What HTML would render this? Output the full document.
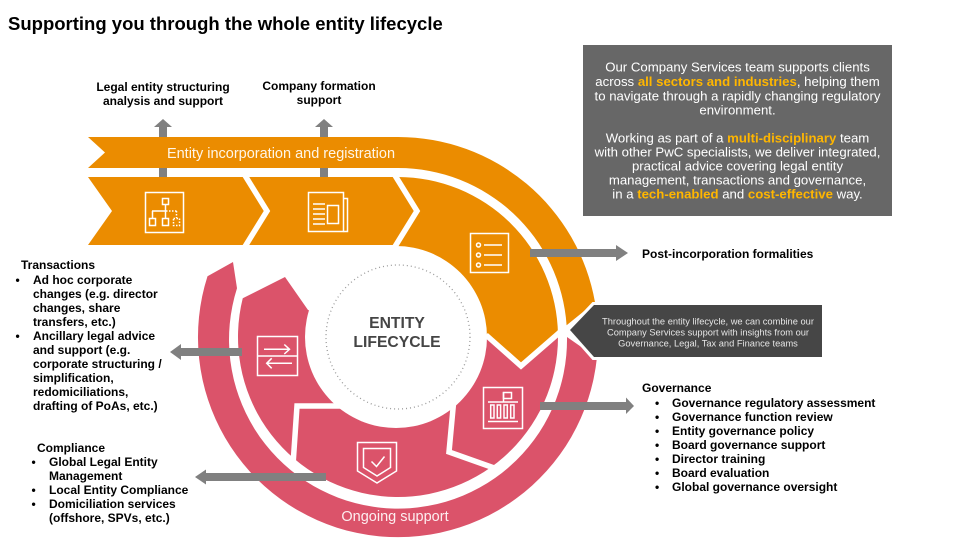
<!DOCTYPE html>
<html><head><meta charset="utf-8"><style>
html,body{margin:0;padding:0;background:#fff;}
svg{display:block;font-family:"Liberation Sans",Arial,sans-serif;}
.b{font-weight:bold;font-size:12px;fill:#000;}
</style></head><body>
<svg width="960" height="540" viewBox="0 0 960 540" xmlns="http://www.w3.org/2000/svg">
<rect width="960" height="540" fill="#fff"/>
<text x="8" y="30" font-size="18.5" font-weight="bold" fill="#000">Supporting you through the whole entity lifecycle</text>

<!-- up arrows (behind band) -->
<g fill="#808080">
<rect x="159" y="126" width="8" height="56"/><polygon points="154,127 163,119 172,127"/>
<rect x="320" y="126" width="8" height="56"/><polygon points="315,127 324,119 333,127"/>
</g>

<!-- outer orange band -->
<path d="M88 137 L398 137 A200 200 0 0 1 595 302.3 L566.6 325.2 A169 169 0 0 0 398 168 L88 168 L105 152.5 Z" fill="#EB8C00"/>
<!-- outer pink band -->
<path d="M596.9 357.9 A200 200 0 1 1 207.5 276.2 L233 262 L237 288.3 A169 169 0 1 0 567 337 Z" fill="#DB536A"/>
<!-- inner pink ring -->
<path d="M398 337 L558 337 A160 160 0 1 1 242.75 298.3 L285 277 L308 310 Z" fill="#DB536A"/>
<!-- inner orange -->
<path d="M88 177 L398 177 A160 160 0 0 1 557.98 334.2 L521 366 L488 337 L398 337 L398 245 L88 245 L112 211 Z" fill="#EB8C00"/>

<!-- white separators -->
<g fill="none" stroke="#fff" stroke-width="5.5">
<polyline points="243.5,173 267,211 243.5,249"/>
<polyline points="393.5,173 417,211 393.5,249"/>
<polyline points="486,335 521,366 559,333 563,329"/>
<polyline points="454,398 449,452 497,469"/>
<polyline points="344,406 297,406 293,465"/>
</g>

<!-- center circle -->
<circle cx="396" cy="337" r="91" fill="#fff"/>
<circle cx="398" cy="337" r="72" fill="none" stroke="#9a9a9a" stroke-width="1.3" stroke-dasharray="1 3"/>
<text x="397" y="328" font-size="15.7" font-weight="bold" fill="#454545" text-anchor="middle">ENTITY</text>
<text x="397" y="347" font-size="15.7" font-weight="bold" fill="#454545" text-anchor="middle">LIFECYCLE</text>

<text x="281" y="158" font-size="14.5" fill="#fff6e8" text-anchor="middle">Entity incorporation and registration</text>
<text x="395" y="521" font-size="14.5" fill="#fdeef0" text-anchor="middle">Ongoing support</text>

<!-- arrows on top -->
<g fill="#808080">
<rect x="530" y="249" width="88" height="8"/><polygon points="616,245 628,253 616,261"/>
<rect x="180" y="348" width="62" height="8"/><polygon points="170,352 181,344 181,360"/>
<rect x="206" y="473" width="120" height="8"/><polygon points="195,477 206,469.5 206,484.5"/>
<rect x="540" y="402" width="88" height="8"/><polygon points="626,397.5 634,406 626,414"/>
</g>

<!-- icons -->
<g fill="none" stroke="#fff" stroke-width="1.5">
<!-- org chart -->
<rect x="145.5" y="192.5" width="38" height="40"/>
<rect x="162.5" y="198.5" width="6" height="6"/>
<line x1="165.5" y1="204.5" x2="165.5" y2="211"/>
<line x1="152" y1="211" x2="166" y2="211"/>
<line x1="166" y1="211" x2="177" y2="211" stroke-dasharray="1.5 1.5"/>
<line x1="152.5" y1="211" x2="152.5" y2="218"/>
<line x1="165.5" y1="211" x2="165.5" y2="218"/>
<line x1="176.5" y1="211" x2="176.5" y2="218" stroke-dasharray="1.5 1.5"/>
<rect x="149.5" y="218.5" width="6" height="7"/>
<rect x="162.5" y="218.5" width="6" height="7"/>
<rect x="173.5" y="218.5" width="6" height="7" stroke-dasharray="1.5 1.5"/>
<!-- newspaper -->
<rect x="308.5" y="192.5" width="35" height="39"/>
<polyline points="343.5,198.5 347.5,198.5 347.5,231.5 343.5,231.5"/>
<line x1="313" y1="204" x2="325" y2="204"/>
<line x1="313" y1="209" x2="325" y2="209"/>
<line x1="313" y1="214" x2="325" y2="214"/>
<line x1="313" y1="219" x2="325" y2="219"/>
<line x1="313" y1="224" x2="325" y2="224"/>
<rect x="327.5" y="205.5" width="11" height="18"/>
<!-- list -->
<rect x="470.5" y="233.5" width="38" height="39"/>
<circle cx="478.5" cy="245" r="2"/><circle cx="478.5" cy="255" r="2"/><circle cx="478.5" cy="265" r="2"/>
<line x1="484" y1="245" x2="502" y2="245"/><line x1="484" y1="255" x2="502" y2="255"/><line x1="484" y1="265" x2="502" y2="265"/>
<!-- arrows -->
<rect x="257.5" y="336.5" width="40" height="39"/>
<line x1="257.5" y1="356" x2="297.5" y2="356"/>
<line x1="264" y1="349.3" x2="289.5" y2="349.3"/>
<polyline points="284.3,344.5 289.5,349.3 284.3,354"/>
<line x1="266.5" y1="363.3" x2="292" y2="363.3"/>
<polyline points="271.7,358.3 266.7,363.3 271.7,368.3"/>
<!-- building -->
<rect x="483.5" y="387.5" width="39" height="41"/>
<line x1="503.5" y1="392" x2="503.5" y2="402"/>
<rect x="503.5" y="392.5" width="8" height="6"/>
<line x1="488" y1="402" x2="518" y2="402"/>
<rect x="490.7" y="405" width="3.3" height="13"/>
<rect x="497.3" y="405" width="3.3" height="13"/>
<rect x="504" y="405" width="3.3" height="13"/>
<rect x="510.7" y="405" width="3.3" height="13"/>
<line x1="488" y1="421.5" x2="518" y2="421.5"/>
<!-- shield -->
<path d="M357.5 442.5 L396.5 442.5 L396.5 471 L377 483 L357.5 471 Z"/>
<path d="M363.5 448.5 L390.5 448.5 L390.5 467.5 L377 476 L363.5 467.5 Z"/>
<polyline points="371.5,461.5 376.5,466.5 384.5,456.5"/>
</g>

<!-- dark pointer box -->
<polygon points="566,330 592.5,302 825,302 825,360 592.5,360" fill="#fff"/>
<polygon points="570,330 594,305 822,305 822,357 594,357" fill="#464646"/>
<g font-size="9.3" fill="#e6e6e6" text-anchor="middle">
<text x="708" y="324.5">Throughout the entity lifecycle, we can combine our</text>
<text x="708" y="335.5">Company Services support with insights from our</text>
<text x="708" y="346.5">Governance, Legal, Tax and Finance teams</text>
</g>

<!-- info box -->
<rect x="583" y="45" width="309" height="171" fill="#676767"/>
<g font-size="13.2" fill="#fff" text-anchor="middle">
<text x="737.5" y="71.7">Our Company Services team supports clients</text>
<text x="737.5" y="86">across <tspan fill="#FFB600" font-weight="bold">all sectors and industries</tspan>, helping them</text>
<text x="737.5" y="100.5">to navigate through a rapidly changing regulatory</text>
<text x="737.5" y="114.5">environment.</text>
<text x="737.5" y="142.5">Working as part of a <tspan fill="#FFB600" font-weight="bold">multi-disciplinary</tspan> team</text>
<text x="737.5" y="156.5">with other PwC specialists, we deliver integrated,</text>
<text x="737.5" y="170.5">practical advice covering legal entity</text>
<text x="737.5" y="184.5">management, transactions and governance,</text>
<text x="737.5" y="198.5">in a <tspan fill="#FFB600" font-weight="bold">tech-enabled</tspan> and <tspan fill="#FFB600" font-weight="bold">cost-effective</tspan> way.</text>
</g>

<!-- top labels -->
<text class="b" x="163" y="91" text-anchor="middle">Legal entity structuring</text>
<text class="b" x="163" y="105" text-anchor="middle">analysis and support</text>
<text class="b" x="319" y="90" text-anchor="middle">Company formation</text>
<text class="b" x="319" y="104" text-anchor="middle">support</text>

<text class="b" x="642" y="258">Post-incorporation formalities</text>

<!-- Transactions -->
<text class="b" x="21" y="269">Transactions</text>
<text class="b" x="15.5" y="284">•</text>
<text class="b" x="33" y="284">Ad hoc corporate</text>
<text class="b" x="33" y="298">changes (e.g. director</text>
<text class="b" x="33" y="312">changes, share</text>
<text class="b" x="33" y="326">transfers, etc.)</text>
<text class="b" x="15.5" y="340">•</text>
<text class="b" x="33" y="340">Ancillary legal advice</text>
<text class="b" x="33" y="354">and support (e.g.</text>
<text class="b" x="33" y="368">corporate structuring /</text>
<text class="b" x="33" y="382">simplification,</text>
<text class="b" x="33" y="396">redomiciliations,</text>
<text class="b" x="33" y="410">drafting of PoAs, etc.)</text>

<!-- Compliance -->
<text class="b" x="37" y="452">Compliance</text>
<text class="b" x="31.5" y="466">•</text>
<text class="b" x="49" y="466">Global Legal Entity</text>
<text class="b" x="49" y="480">Management</text>
<text class="b" x="31.5" y="494">•</text>
<text class="b" x="49" y="494">Local Entity Compliance</text>
<text class="b" x="31.5" y="508">•</text>
<text class="b" x="49" y="508">Domiciliation services</text>
<text class="b" x="49" y="522">(offshore, SPVs, etc.)</text>

<!-- Governance -->
<text class="b" x="642" y="392">Governance</text>
<g class="b">
<text class="b" x="655" y="407">•</text><text class="b" x="672" y="407">Governance regulatory assessment</text>
<text class="b" x="655" y="421">•</text><text class="b" x="672" y="421">Governance function review</text>
<text class="b" x="655" y="435">•</text><text class="b" x="672" y="435">Entity governance policy</text>
<text class="b" x="655" y="449">•</text><text class="b" x="672" y="449">Board governance support</text>
<text class="b" x="655" y="463">•</text><text class="b" x="672" y="463">Director training</text>
<text class="b" x="655" y="477">•</text><text class="b" x="672" y="477">Board evaluation</text>
<text class="b" x="655" y="491">•</text><text class="b" x="672" y="491">Global governance oversight</text>
</g>
</svg>
</body></html>
